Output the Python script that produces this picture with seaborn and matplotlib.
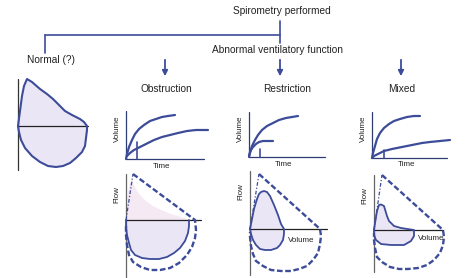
import matplotlib
matplotlib.use("Agg")
import matplotlib.pyplot as plt
import seaborn as sns

# flow-volume loops, drawn in local units (volume to the right, flow up)
normal_x = [0, 2, 4, 6, 9, 14, 22, 29, 35, 41, 47, 54, 62, 66, 69,
            69, 68, 67, 64, 58, 52, 45, 38, 30, 22, 14, 7, 3, 1, 0]
normal_y = [0, 15, 30, 40, 47, 44, 37, 32, 27, 21, 15, 11, 7, 4, 0,
            -4, -12, -20, -26, -32, -37, -40, -41, -40, -36, -30, -22, -14, -6, 0]

ref_obs_x = [69, 70, 69, 66, 61, 53, 44, 34, 24, 15, 7, 3, 1, 0, 0]
ref_obs_y = [0, -10, -18, -27, -35, -43, -48, -50, -50, -47, -42, -35, -25, -15, -6]
obs_exp_x = [0, 1, 2, 4, 6, 8, 11, 15, 20, 27, 35, 45, 55, 63]
obs_exp_y = [0, 15, 28, 38, 40, 35, 29, 24, 19, 14, 10, 6, 3, 0]
obs_insp_x = [63, 63, 62, 59, 54, 48, 41, 33, 24, 16, 9, 5, 3, 1, 0, 0]
obs_insp_y = [0, -6, -13, -21, -28, -33, -37, -39, -39, -38, -35, -30, -23, -15, -8, 0]

ref_res_x = [70, 71, 70, 68, 63, 57, 49, 41, 31, 21, 13, 6, 3, 1, 0, 0]
ref_res_y = [0, -7, -15, -24, -31, -37, -40, -42, -42, -41, -37, -32, -25, -17, -8, -3]
res_x = [0, 2, 4, 7, 9, 11, 14, 17, 20, 24, 28, 31, 34,
         34, 33, 30, 27, 21, 15, 10, 6, 3, 1, 0]
res_y = [0, 10, 20, 30, 35, 37, 38, 37, 33, 24, 14, 5, 0,
         -5, -11, -16, -19, -21, -21, -20, -16, -11, -5, 0]

ref_mix_x = [69, 70, 69, 66, 60, 53, 44, 34, 25, 16, 8, 3, 1, 0, 0]
ref_mix_y = [0, -7, -15, -23, -30, -35, -38, -39, -39, -37, -32, -27, -18, -10, -3]
mix_x = [0, 1, 3, 5, 7, 10, 13, 15, 20, 27, 40,
         40, 37, 30, 17, 7, 2, 0, 0]
mix_y = [0, 7, 19, 25, 25.5, 24, 14, 9, 4, 2, 0,
         -6, -11, -15, -15, -14, -10, -5, 0]

ref_peak = {"obs": (7, 46), "res": (9, 55), "mix": (8, 55)}

# volume-time curves
vt_normal = {"obs": ([0, 1, 3, 6, 9, 13, 18, 24, 30, 36, 42, 49],
                     [0, 5, 12, 19, 25, 30, 34, 38, 40, 42, 43, 44]),
             "res": ([0, 1, 3, 6, 9, 13, 18, 24, 30, 37, 43, 49],
                     [0, 5, 11, 17, 22, 27, 31, 34, 37, 39, 40, 41]),
             "mix": ([0, 1, 3, 5, 8, 12, 17, 22, 28, 35, 42, 48],
                     [0, 5, 12, 19, 25, 30, 34, 37, 39, 41, 42, 42])}
vt_obs_x = [1, 4, 8, 14, 20, 28, 36, 44, 52, 61, 70, 82]
vt_obs_y = [3, 6, 9, 12, 15, 19, 22, 24, 26, 28, 29, 29]
vt_res_x = [0, 1, 2, 4, 7, 10, 14, 19, 24]
vt_res_y = [1, 4, 7, 10, 13, 15, 16, 16, 16]
vt_mix_x = [0, 2, 6, 12, 20, 30, 40, 50, 58, 68, 78]
vt_mix_y = [0, 2, 4, 7, 9, 11, 13, 15, 16, 17, 18]
fev1_tick = {"obs": (11, 17), "res": (11, 8), "mix": (12, 8)}

categories = ["Obstruction", "Restriction", "Mixed"]

BLUE = "#3d4c99"
FILL = "#ebe6f5"
FAINT = "#f5eaf4"
DASH = (0, (2.4, 1.1))

sns.set_style("white")
plt.rcParams["font.family"] = ["Liberation Sans", "DejaVu Sans"]

fig = plt.figure(figsize=(4.74, 2.78), dpi=100)
ax = fig.add_axes([0, 0, 1, 1])
ax.set_xlim(0, 474)
ax.set_ylim(278, 0)
ax.axis("off")


def line(ox, oy, xs, ys, **kw):
    sns.lineplot(x=[ox + v for v in xs], y=[oy - v for v in ys], sort=False,
                 estimator=None, ax=ax, legend=False, **kw)


def fill(ox, oy, xs, ys, color):
    ax.fill([ox + v for v in xs], [oy - v for v in ys], color=color, lw=0)


def axes_lines(ox, oy, top, bottom, right, vcol, hcol):
    line(ox, oy, [0, 0], [top, bottom], color=vcol, lw=0.9)
    line(ox, oy, [0, right], [0, 0], color=hcol, lw=0.9)


def label(x, y, s, size=7.3, **kw):
    ax.text(x, y, s, fontsize=size, color="#222222", ha="center", va="center", **kw)


# decision tree at the top
label(282, 11, "Spirometry performed")
line(0, 0, [280, 280], [-21, -43], color=BLUE, lw=1.2)
line(0, 0, [45, 280], [-35, -35], color=BLUE, lw=1.2)
line(0, 0, [45, 45], [-35, -53], color=BLUE, lw=1.2)
label(51, 60, "Normal (?)")
label(278, 50, "Abnormal ventilatory function")
for x in [165, 280, 401]:
    ax.annotate("", xy=(x, 79), xytext=(x, 57),
                arrowprops=dict(arrowstyle="-|>", color=BLUE, lw=1.3, mutation_scale=8))
for x, name in zip([166, 287, 402], categories):
    label(x, 89, name)

# normal loop
fill(18, 126, normal_x, normal_y, FILL)
axes_lines(18, 126, 47, -44, 70, "#333333", "#222222")
line(18, 126, normal_x, normal_y, color=BLUE, lw=1.5)

# volume-time panels
vt_origins = {"obs": (126, 159), "res": (249, 157), "mix": (372, 158)}
vt_sizes = {"obs": (48, 78), "res": (45, 76), "mix": (46, 75)}
vt_abn = {"obs": (vt_obs_x, vt_obs_y), "res": (vt_res_x, vt_res_y), "mix": (vt_mix_x, vt_mix_y)}
for key, (ox, oy) in vt_origins.items():
    h, w = vt_sizes[key]
    axes_lines(ox, oy, h, 0, w, "#2f3b73", "#2f3b73")
    nx, ny = vt_normal[key]
    line(ox, oy, nx, ny, color=BLUE, lw=1.6)
    ax_, ay_ = vt_abn[key]
    line(ox, oy, ax_, ay_, color=BLUE, lw=1.6)
    tx, th = fev1_tick[key]
    line(ox, oy, [tx, tx], [0, th], color=BLUE, lw=1.2)
    label(ox - 9, oy - h / 2 - 6, "Volume", size=5.8, rotation=90)
    label(ox + w / 2 - 3, oy + 7, "Time", size=5.8)

# flow-volume panels
fv_origins = {"obs": (126, 220), "res": (250, 229), "mix": (374, 230)}
fv_axes = {"obs": (46, -62, 75), "res": (58, -46, 77), "mix": (55, -42, 69)}
fv_ref = {"obs": (ref_obs_x, ref_obs_y), "res": (ref_res_x, ref_res_y), "mix": (ref_mix_x, ref_mix_y)}

ox, oy = fv_origins["obs"]
fill(ox, oy, obs_exp_x, obs_exp_y, FAINT)
fill(ox, oy, obs_insp_x, obs_insp_y, FILL)
ox, oy = fv_origins["res"]
fill(ox, oy, res_x, res_y, FILL)
ox, oy = fv_origins["mix"]
fill(ox, oy, mix_x, mix_y, FILL)

for key, (ox, oy) in fv_origins.items():
    top, bottom, right = fv_axes[key]
    axes_lines(ox, oy, top, bottom, right, "#666666", "#222222")
    px, py = ref_peak[key]
    rx, ry = fv_ref[key]
    line(ox, oy, [0, px], [0, py], color=BLUE, lw=0.9, linestyle=(0, (3, 1.5, 1, 1.5)))
    line(ox, oy, [px] + rx, [py] + ry, color=BLUE, lw=1.7, linestyle=DASH)
    label(ox - 9, oy - top + 21, "Flow", size=5.8, rotation=90)

ox, oy = fv_origins["obs"]
line(ox, oy, obs_insp_x, obs_insp_y, color=BLUE, lw=1.3)
ox, oy = fv_origins["res"]
line(ox, oy, res_x, res_y, color=BLUE, lw=1.3)
label(301, 240, "Volume", size=5.8)
ox, oy = fv_origins["mix"]
line(ox, oy, mix_x, mix_y, color=BLUE, lw=1.3)
label(431, 239, "Volume", size=5.8)

fig.savefig("out.png", dpi=100)
